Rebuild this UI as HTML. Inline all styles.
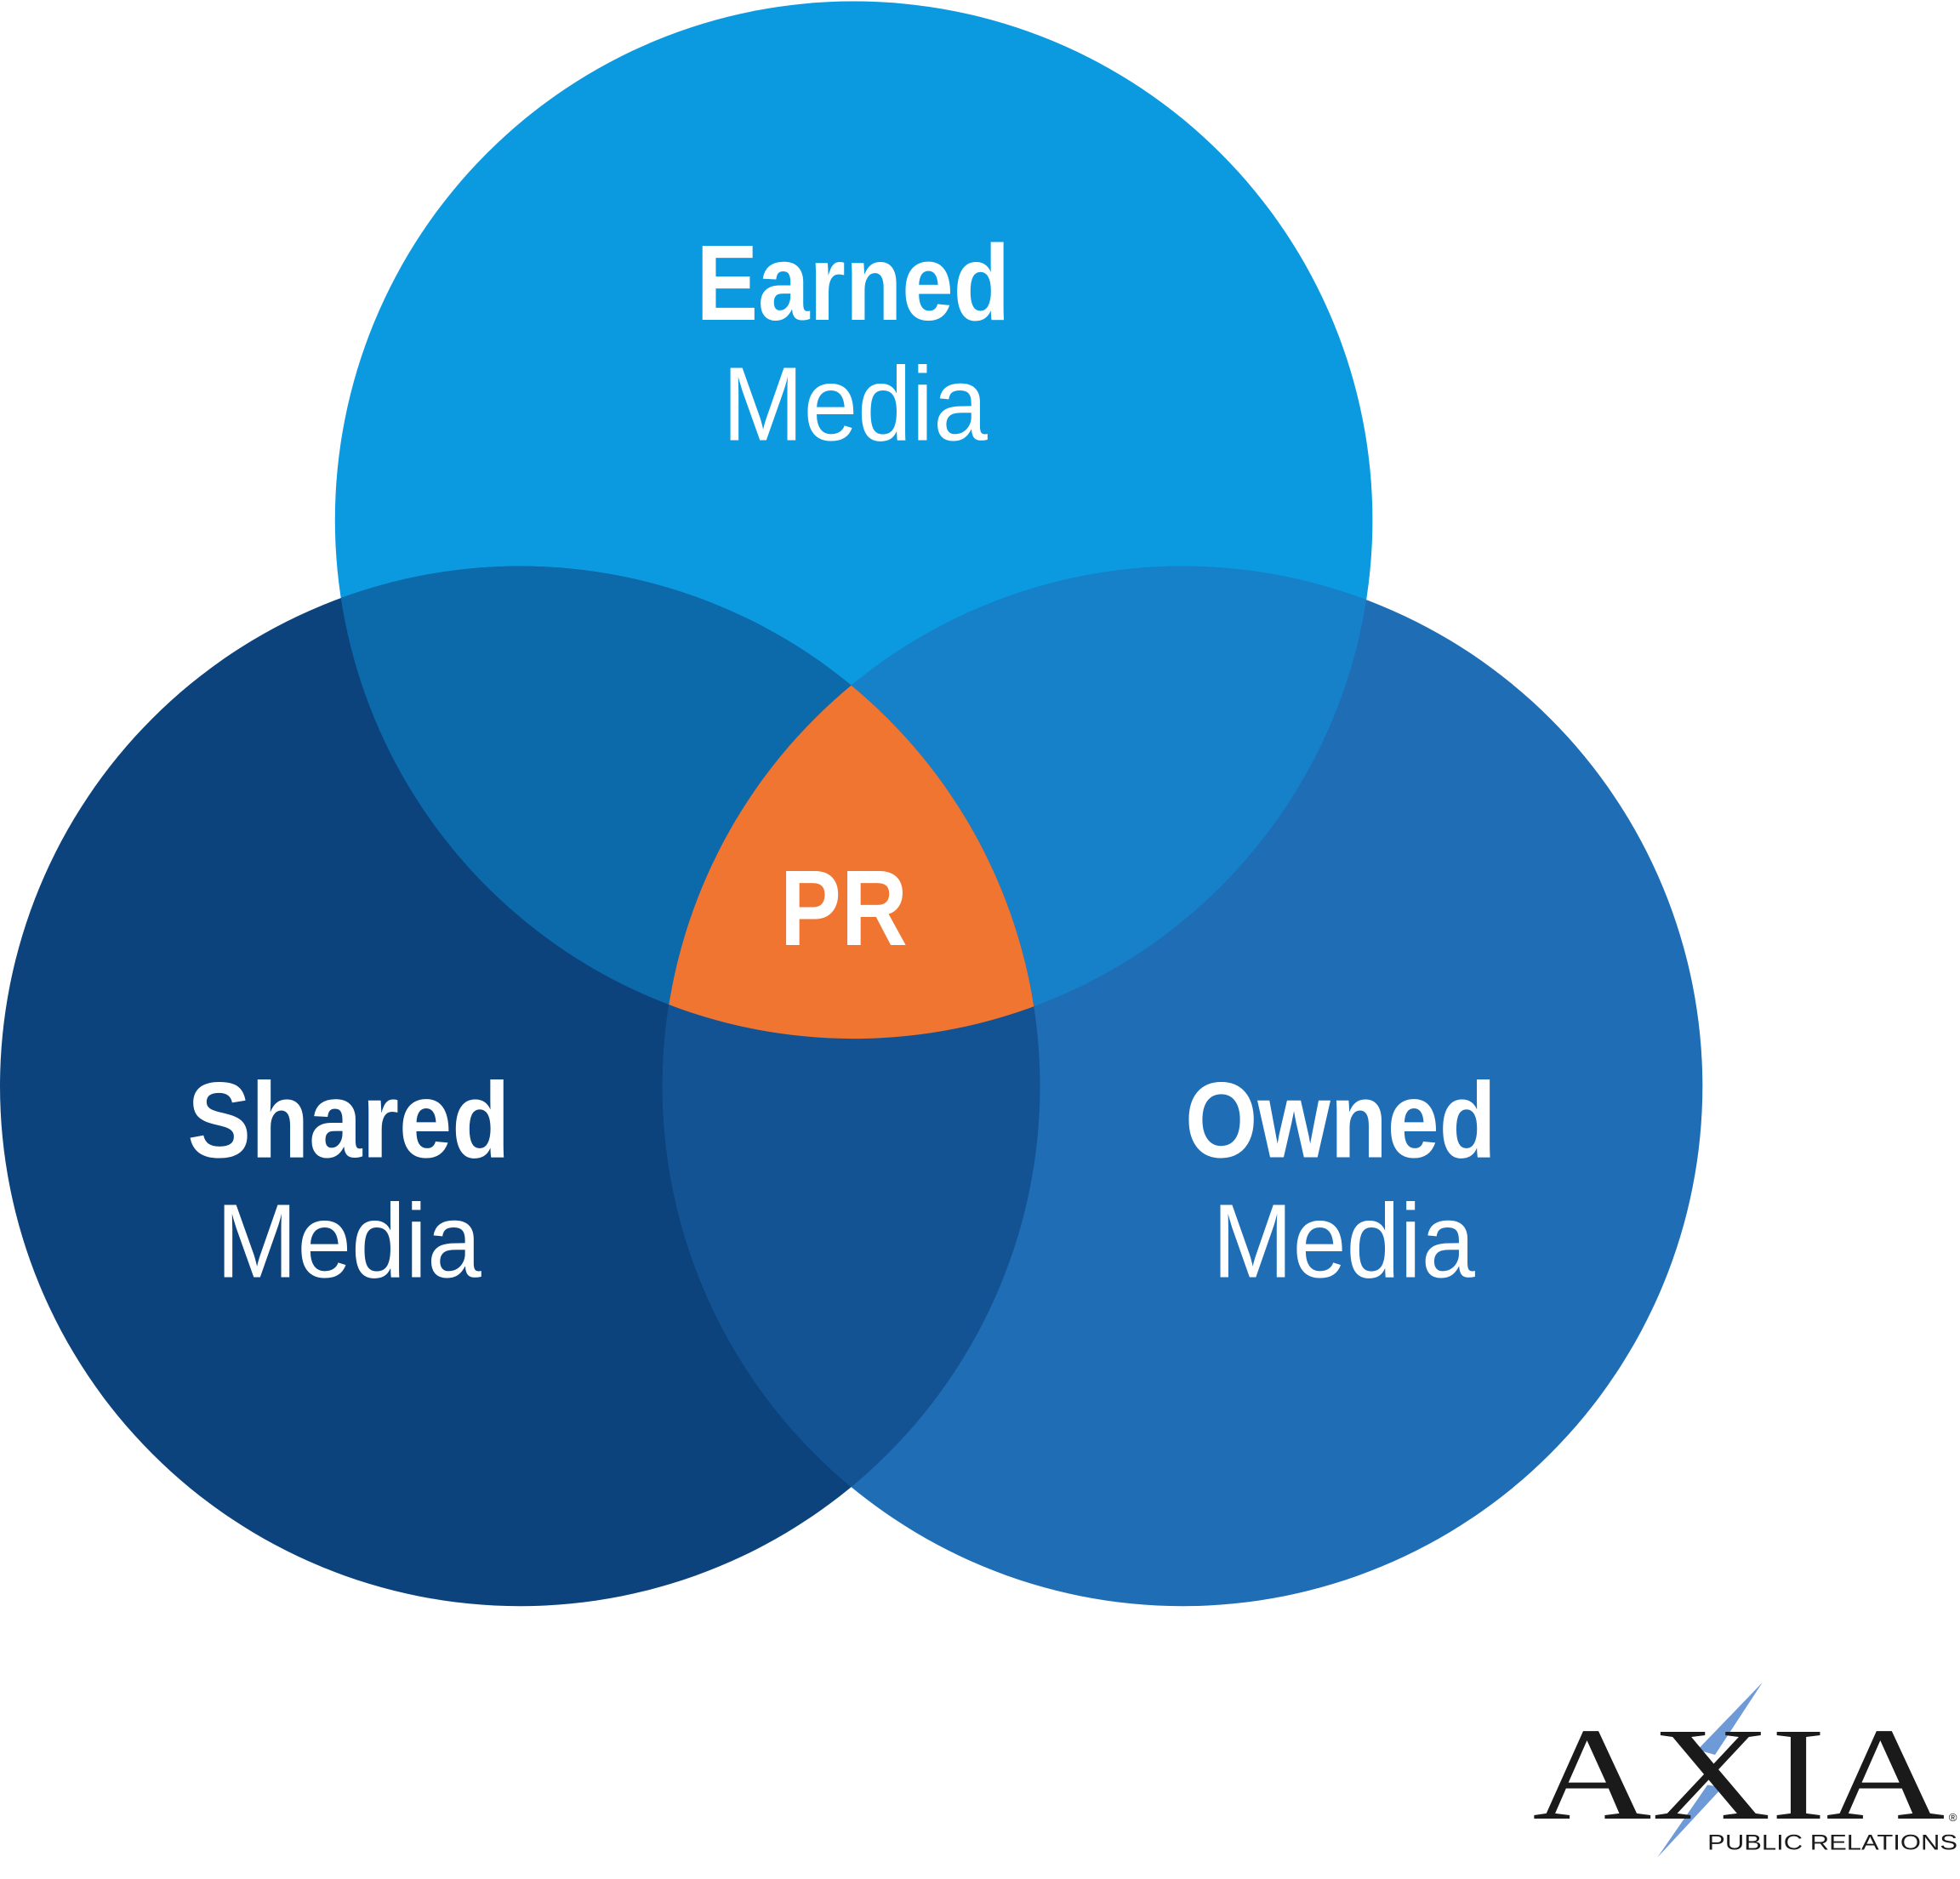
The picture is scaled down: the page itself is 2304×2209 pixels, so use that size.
<!DOCTYPE html>
<html><head><meta charset="utf-8"><style>html,body{margin:0;padding:0;background:#fff}svg{display:block}</style></head>
<body>
<svg width="2304" height="2209" viewBox="0 0 1568 1503.3" xmlns="http://www.w3.org/2000/svg">
<defs>
<clipPath id="cT"><circle cx="683" cy="416" r="415"/></clipPath>
<clipPath id="cL"><circle cx="416" cy="869" r="416"/></clipPath>
<clipPath id="cR"><circle cx="946" cy="869" r="416"/></clipPath>
</defs>
<rect width="1568" height="1503.3" fill="#fff"/>
<circle cx="683" cy="416" r="415" fill="#0B9AE0"/>
<circle cx="416" cy="869" r="416" fill="#0C437C"/>
<circle cx="946" cy="869" r="416" fill="#1F6DB5"/>
<g clip-path="url(#cT)">
<circle cx="416" cy="869" r="416" fill="#0C69AA"/>
<circle cx="946" cy="869" r="416" fill="#1681C9"/>
</g>
<g clip-path="url(#cL)">
<circle cx="946" cy="869" r="416" fill="#135393"/>
<g clip-path="url(#cT)"><circle cx="946" cy="869" r="416" fill="#F07530"/></g>
</g>
<g fill="#fff" font-family="Liberation Sans, sans-serif">
<text x="557" y="256" font-size="86" font-weight="bold" textLength="251" lengthAdjust="spacingAndGlyphs">Earned</text>
<text x="578" y="352" font-size="84" textLength="212" lengthAdjust="spacingAndGlyphs">Media</text>
<text x="150" y="926" font-size="86" font-weight="bold" textLength="258" lengthAdjust="spacingAndGlyphs">Shared</text>
<text x="173" y="1022" font-size="84" textLength="212" lengthAdjust="spacingAndGlyphs">Media</text>
<text x="948" y="926" font-size="86" font-weight="bold" textLength="249" lengthAdjust="spacingAndGlyphs">Owned</text>
<text x="970" y="1022" font-size="84" textLength="210" lengthAdjust="spacingAndGlyphs">Media</text>
<text x="624" y="756" font-size="86" font-weight="bold" textLength="102" lengthAdjust="spacingAndGlyphs">PR</text>
</g>
<path d="M1410 1346 L1358 1400 L1372 1404 Z" fill="#6f9ad8"/>
<path d="M1326 1486 L1378 1430 L1366 1428 Z" fill="#6f9ad8"/>
<text x="1226" y="1455" font-family="Liberation Serif, serif" font-size="106" fill="#1a1a1a" textLength="330" lengthAdjust="spacingAndGlyphs">AXIA</text>
<text x="1559" y="1457" font-family="Liberation Sans, sans-serif" font-size="9" fill="#1a1a1a">®</text>
<text x="1366" y="1480" font-family="Liberation Sans, sans-serif" font-size="17" fill="#1a1a1a" textLength="200" lengthAdjust="spacingAndGlyphs">PUBLIC RELATIONS</text>
</svg>
</body></html>
